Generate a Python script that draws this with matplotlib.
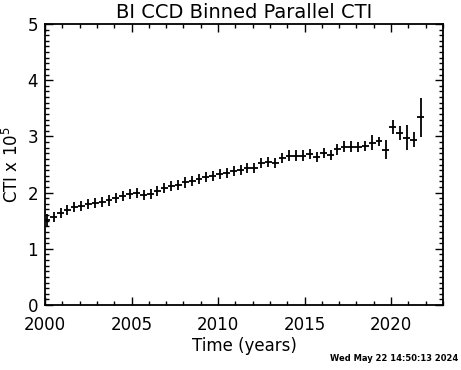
import numpy as np
import matplotlib
matplotlib.use("Agg")
import matplotlib.pyplot as plt
from matplotlib.ticker import MultipleLocator

# time bins (years), ~0.4 yr wide
years = [2000.1, 2000.5, 2000.9, 2001.3, 2001.7, 2002.1, 2002.5, 2002.9, 2003.3, 2003.7,
         2004.1, 2004.5, 2004.9, 2005.3, 2005.7, 2006.1, 2006.5, 2006.9, 2007.3, 2007.7,
         2008.1, 2008.5, 2008.9, 2009.3, 2009.7, 2010.1, 2010.5, 2010.9, 2011.3, 2011.7,
         2012.1, 2012.5, 2012.9, 2013.3, 2013.7, 2014.1, 2014.5, 2014.9, 2015.3, 2015.7,
         2016.1, 2016.5, 2016.9, 2017.3, 2017.7, 2018.1, 2018.5, 2018.9, 2019.3, 2019.7,
         2020.1, 2020.5, 2020.9, 2021.3, 2021.7]

cti = [1.51, 1.56, 1.63, 1.69, 1.74, 1.76, 1.79, 1.81, 1.83, 1.86,
       1.90, 1.94, 1.98, 2.00, 1.96, 1.98, 2.03, 2.08, 2.12, 2.14,
       2.18, 2.21, 2.24, 2.27, 2.30, 2.33, 2.35, 2.38, 2.40, 2.43,
       2.43, 2.52, 2.54, 2.52, 2.61, 2.66, 2.66, 2.66, 2.68, 2.64,
       2.71, 2.67, 2.77, 2.82, 2.82, 2.81, 2.83, 2.89, 2.91, 2.76,
       3.17, 3.06, 2.98, 2.94, 3.34]

cti_err = [0.11, 0.09, 0.09, 0.09, 0.09, 0.09, 0.09, 0.09, 0.09, 0.09,
           0.09, 0.09, 0.09, 0.09, 0.09, 0.09, 0.09, 0.09, 0.09, 0.09,
           0.09, 0.09, 0.09, 0.09, 0.09, 0.09, 0.09, 0.09, 0.09, 0.09,
           0.09, 0.09, 0.09, 0.09, 0.09, 0.09, 0.09, 0.09, 0.09, 0.09,
           0.09, 0.09, 0.10, 0.10, 0.09, 0.09, 0.09, 0.13, 0.08, 0.17,
           0.13, 0.12, 0.22, 0.13, 0.35]

time_err = 0.2

fig = plt.figure(figsize=(4.61, 3.70), dpi=100)
ax = fig.add_axes([0.0976, 0.1757, 0.8634, 0.7594])

ax.errorbar(years, cti, xerr=time_err, yerr=cti_err, fmt="none",
            ecolor="black", elinewidth=1.3, capsize=0)

ax.set_xlim(2000, 2023)
ax.set_ylim(0, 5)
ax.xaxis.set_major_locator(MultipleLocator(5))
ax.xaxis.set_minor_locator(MultipleLocator(1))
ax.yaxis.set_major_locator(MultipleLocator(1))
ax.yaxis.set_minor_locator(MultipleLocator(0.1))
ax.tick_params(which="both", direction="in", top=True, right=True,
               labelsize=12, width=1.0)
ax.tick_params(axis="x", pad=8)
ax.tick_params(axis="y", pad=5)
ax.tick_params(which="major", length=6)
ax.tick_params(which="minor", length=3)
for s in ax.spines.values():
    s.set_linewidth(1.3)

ax.set_title("BI CCD Binned Parallel CTI", fontsize=14, pad=4)
ax.set_xlabel("Time (years)", fontsize=12, labelpad=2)
ax.set_ylabel("CTI x 10$^5$", fontsize=12, labelpad=4)

fig.text(0.993, 0.018, "Wed May 22 14:50:13 2024", ha="right", va="bottom",
         fontsize=6, fontweight="bold")

fig.savefig("out.png", dpi=100)
